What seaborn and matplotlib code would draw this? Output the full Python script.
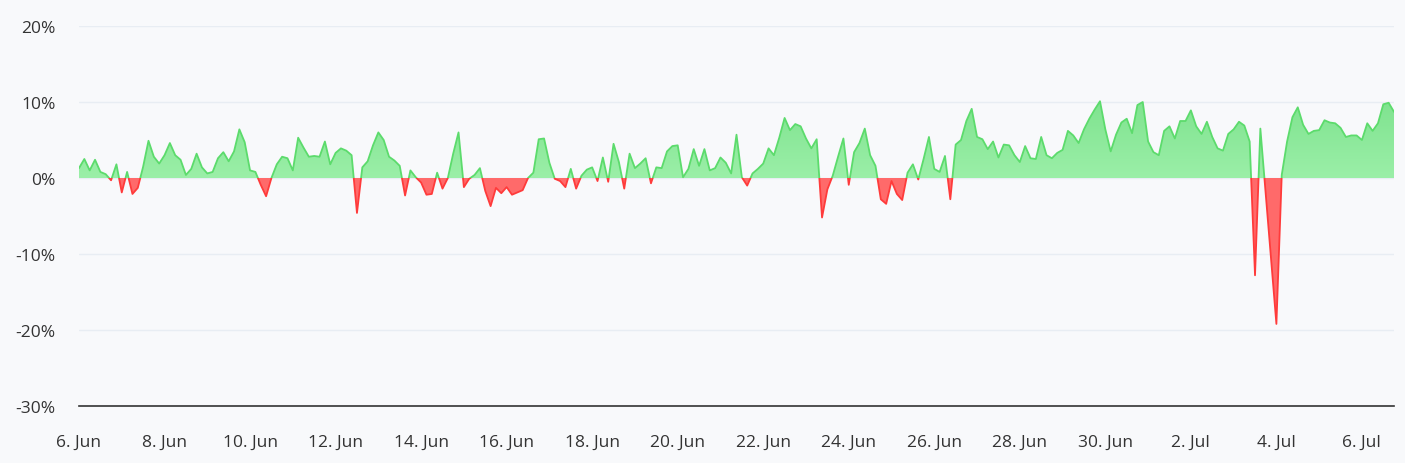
import numpy as np
import pandas as pd
import matplotlib
matplotlib.use("Agg")
import matplotlib.pyplot as plt
import matplotlib.transforms as mtransforms
from matplotlib.patches import Rectangle
from matplotlib.path import Path
from matplotlib.colors import LinearSegmentedColormap
import seaborn as sns

# 3-hourly change in %, starting 6 Jun 00:00 (one row per day)
start = "2023-06-06 00:00"
step = "3h"
change = [
    1.3, 2.5, 1.0, 2.4, 0.8, 0.5, -0.3, 1.8,          # 6 Jun
    -1.9, 0.8, -2.1, -1.3, 1.5, 4.9, 2.8, 1.9,        # 7 Jun
    3.0, 4.6, 3.0, 2.4, 0.4, 1.2, 3.2, 1.4,           # 8 Jun
    0.6, 0.8, 2.6, 3.4, 2.2, 3.5, 6.4, 4.7,           # 9 Jun
    1.0, 0.8, -0.9, -2.4, 0.0, 1.8, 2.8, 2.6,         # 10 Jun
    1.0, 5.3, 4.0, 2.8, 2.9, 2.8, 4.8, 1.8,           # 11 Jun
    3.3, 3.9, 3.6, 3.0, -4.6, 1.4, 2.2, 4.3,          # 12 Jun
    6.0, 5.0, 2.8, 2.3, 1.6, -2.3, 1.0, 0.1,          # 13 Jun
    -0.6, -2.2, -2.1, 0.7, -1.4, 0.0, 3.2, 6.0,       # 14 Jun
    -1.2, -0.1, 0.4, 1.3, -1.7, -3.7, -1.3, -2.0,     # 15 Jun
    -1.2, -2.2, -1.9, -1.6, 0.0, 0.7, 5.1, 5.2,       # 16 Jun
    2.0, -0.1, -0.4, -1.2, 1.2, -1.4, 0.3, 1.1,       # 17 Jun
    1.4, -0.4, 2.7, -0.5, 4.5, 2.1, -1.4, 3.2,        # 18 Jun
    1.3, 1.9, 2.6, -0.7, 1.4, 1.3, 3.5, 4.2,          # 19 Jun
    4.3, 0.1, 1.2, 3.8, 1.6, 3.8, 1.0, 1.3,           # 20 Jun
    2.7, 2.0, 0.6, 5.7, 0.1, -1.0, 0.6, 1.2,          # 21 Jun
    1.9, 3.9, 3.0, 5.3, 7.9, 6.3, 7.1, 6.8,           # 22 Jun
    5.2, 3.9, 5.1, -5.2, -1.5, 0.3, 2.8, 5.2,         # 23 Jun
    -0.9, 3.4, 4.6, 6.5, 3.0, 1.6, -2.8, -3.4,        # 24 Jun
    -0.4, -2.1, -2.9, 0.7, 1.8, -0.2, 2.5, 5.4,       # 25 Jun
    1.2, 0.8, 2.9, -2.8, 4.4, 5.0, 7.5, 9.1,          # 26 Jun
    5.4, 5.1, 3.8, 4.8, 2.7, 4.4, 4.3, 3.0,           # 27 Jun
    2.1, 4.2, 2.6, 2.5, 5.4, 3.0, 2.6, 3.3,           # 28 Jun
    3.7, 6.2, 5.6, 4.6, 6.4, 7.8, 9.0, 10.1,          # 29 Jun
    6.4, 3.5, 5.7, 7.3, 7.8, 5.9, 9.6, 10.0,          # 30 Jun
    4.8, 3.4, 3.0, 6.2, 6.8, 5.2, 7.5, 7.5,           # 1 Jul
    8.9, 6.8, 5.8, 7.4, 5.4, 3.9, 3.6, 5.8,           # 2 Jul
    6.4, 7.4, 6.9, 4.8, -12.8, 6.5, np.nan, np.nan,   # 3 Jul
    -19.2, 0.4, 4.8, 8.0, 9.3, 7.0, 5.8, 6.2,         # 4 Jul
    6.3, 7.6, 7.3, 7.2, 6.6, 5.4, 5.6, 5.6,           # 5 Jul
    5.0, 7.2, 6.2, 7.2, 9.7, 9.9, 8.7,                # 6 Jul
]

y_ticks = [-30, -20, -10, 0, 10, 20]
y_labels = ["-30%", "-20%", "-10%", "0%", "10%", "20%"]
x_tick_dates = pd.date_range("2023-06-06", "2023-07-06", freq="2D")
x_labels = ["6. Jun", "8. Jun", "10. Jun", "12. Jun", "14. Jun", "16. Jun",
            "18. Jun", "20. Jun", "22. Jun", "24. Jun", "26. Jun", "28. Jun",
            "30. Jun", "2. Jul", "4. Jul", "6. Jul"]

df = pd.DataFrame({"time": pd.date_range(start, periods=len(change), freq=step),
                   "change": change}).dropna()

bg = "#f8f9fb"
green_line = "#5cdb6c"
red_line = "#ff3b3b"
red_fill = "#ff6a6a"

sns.set_theme(style="white")
plt.rcParams["font.family"] = ["Open Sans", "DejaVu Sans"]

fig = plt.figure(figsize=(14.05, 4.64), dpi=100, facecolor=bg)
ax = fig.add_axes([79 / 1405, 57 / 464, (1394 - 79) / 1405, (437 - 57) / 464])
ax.set_facecolor(bg)

x = df["time"].values
y = df["change"].values

# fills
pos = ax.fill_between(x, y, 0, where=y >= 0, interpolate=True, color="#90eb9c", lw=0, zorder=2)
neg = ax.fill_between(x, y, 0, where=y <= 0, interpolate=True, color=red_fill, lw=0, zorder=2)

# gentle vertical gradient on the green area
ax.set_xlim(df["time"].iloc[0], df["time"].iloc[-1])
ax.set_ylim(-30, 20)
x0, x1 = ax.get_xlim()
cmap = LinearSegmentedColormap.from_list("g", ["#9befa8", "#7fe38f"])
grad = np.linspace(0, 1, 256).reshape(-1, 1)
im = ax.imshow(grad, cmap=cmap, aspect="auto", origin="lower",
               extent=[x0, x1, 0, np.nanmax(y)], zorder=2.1)
clip = Path.make_compound_path(*pos.get_paths())
im.set_clip_path(clip, transform=ax.transData)

# line, green above zero and red below
trans = mtransforms.blended_transform_factory(ax.transAxes, ax.transData)
sns.lineplot(data=df, x="time", y="change", color=green_line, lw=1.3, ax=ax, zorder=3)
ax.lines[-1].set_clip_path(Rectangle((0, 0), 1, 100, transform=trans))
sns.lineplot(data=df, x="time", y="change", color=red_line, lw=1.3, ax=ax, zorder=3)
ax.lines[-1].set_clip_path(Rectangle((0, -100), 1, 100, transform=trans))

ax.set_xlim(x0, x1)
ax.set_ylim(-30, 20)

# axes styling
ax.set_yticks(y_ticks)
ax.set_yticklabels(y_labels)
ax.set_xticks(x_tick_dates)
ax.set_xticklabels(x_labels)
ax.grid(axis="y", color="#e8edf3", lw=1, zorder=0)
ax.grid(axis="x", visible=False)
for s in ["left", "right", "top"]:
    ax.spines[s].set_visible(False)
ax.spines["bottom"].set_color("#333333")
ax.spines["bottom"].set_linewidth(1.2)
ax.tick_params(axis="y", length=0, pad=17, labelsize=12.5, labelcolor="#333333")
ax.tick_params(axis="x", length=8, width=1.2, color="#333333", direction="out",
               pad=12, labelsize=12.5, labelcolor="#333333")
ax.set_xlabel("")
ax.set_ylabel("")

fig.savefig("out.png", dpi=100, facecolor=bg)
